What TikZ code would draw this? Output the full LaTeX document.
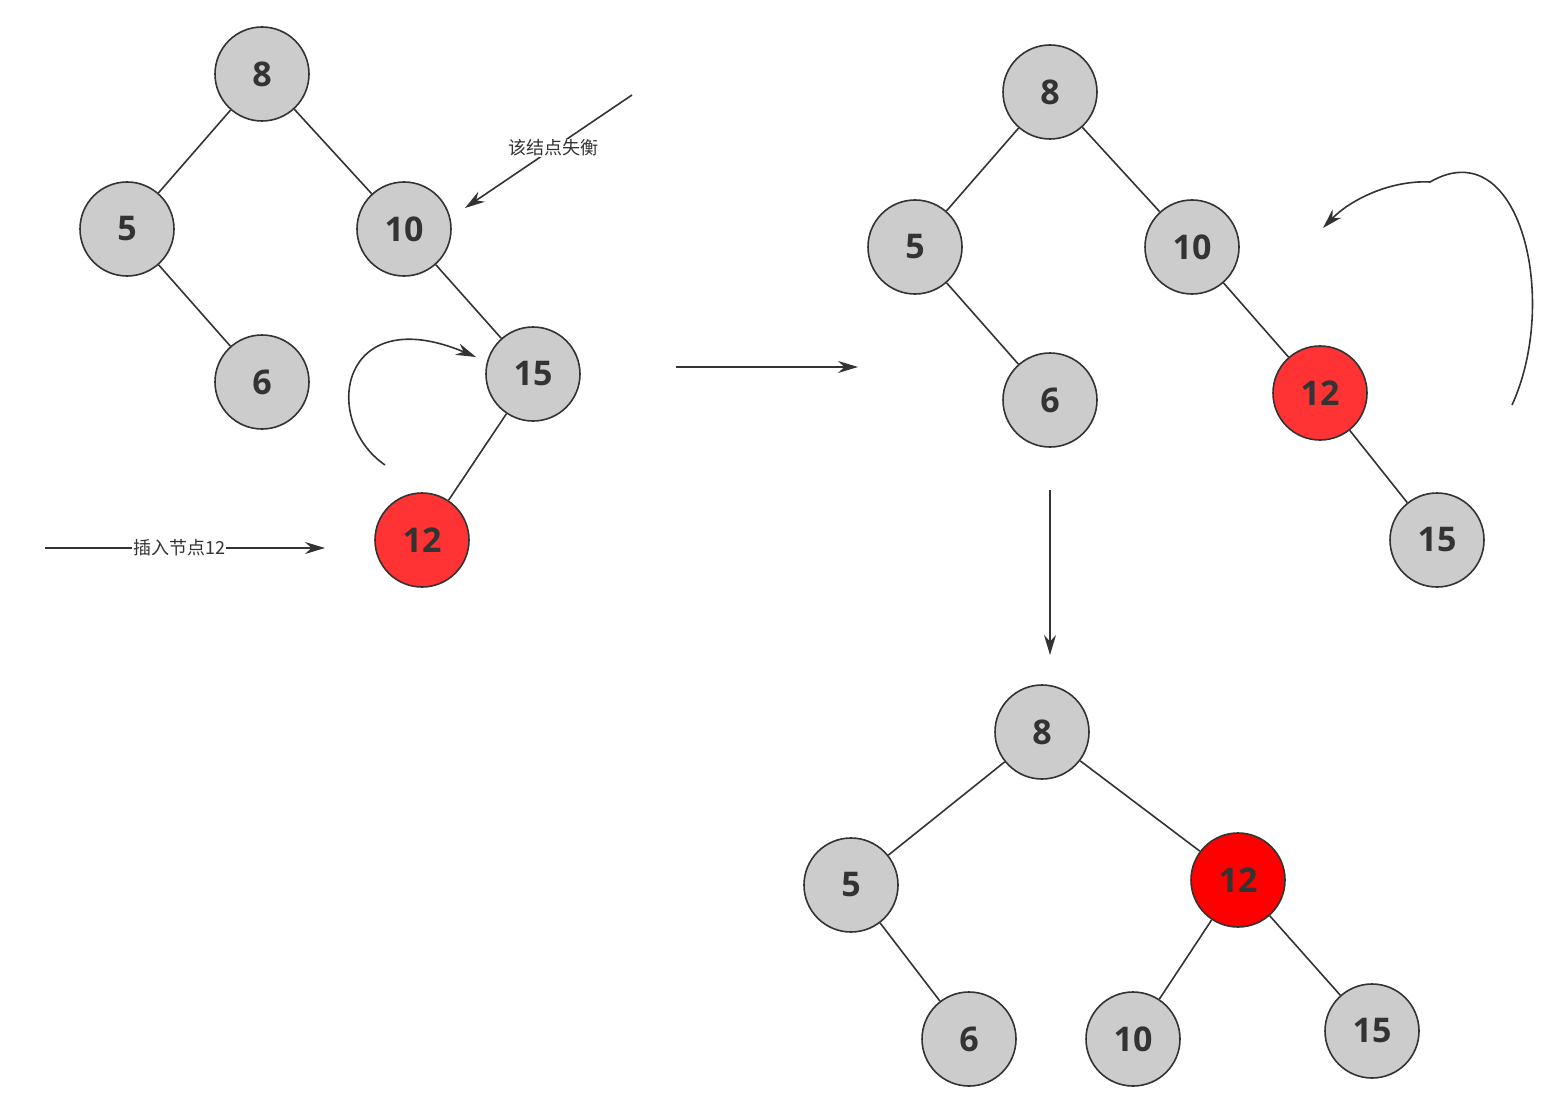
\documentclass[tikz,border=0pt]{standalone}
\usepackage{fontspec}
\setmainfont{Open Sans}
\newfontfamily\cjk{Noto Sans CJK SC}
\usetikzlibrary{arrows.meta}
\definecolor{ln}{HTML}{333333}
\definecolor{gr}{HTML}{CCCCCC}
\definecolor{rd}{HTML}{FF3333}
\begin{document}
\begin{tikzpicture}[x=1pt,y=-1pt,
 nd/.style={circle,draw=ln,line width=1.6pt,fill=gr,minimum size=94pt,inner sep=0pt,font=\fontsize{34}{34}\selectfont\bfseries,text=ln},
 red/.style={nd,fill=rd},
 e/.style={draw=ln,line width=1.6pt},
 ar/.style={draw=ln,line width=1.6pt,-{Stealth[length=20pt,width=12pt]}},
 lb/.style={fill=white,inner sep=1pt,font=\cjk\fontsize{18}{18}\selectfont,text=ln}]
\useasboundingbox (0,0) rectangle (1554,1107);
% tree 1
\node[nd] (a8) at (262,74) {8};
\node[nd] (a5) at (127,229) {5};
\node[nd] (a10) at (404,229) {10};
\node[nd] (a6) at (262,382) {6};
\node[nd] (a15) at (533,374) {15};
\node[red] (a12) at (422,540) {12};
\draw[e] (a8)--(a5); \draw[e] (a8)--(a10); \draw[e] (a5)--(a6);
\draw[e] (a10)--(a15); \draw[e] (a15)--(a12);
% tree 2
\node[nd] (b8) at (1050,92) {8};
\node[nd] (b5) at (915,247) {5};
\node[nd] (b10) at (1192,247) {10};
\node[nd] (b6) at (1050,400) {6};
\node[red] (b12) at (1320,393) {12};
\node[nd] (b15) at (1437,540) {15};
\draw[e] (b8)--(b5); \draw[e] (b8)--(b10); \draw[e] (b5)--(b6);
\draw[e] (b10)--(b12); \draw[e] (b12)--(b15);
% tree 3
\node[nd] (c8) at (1042,732) {8};
\node[nd] (c5) at (851,885) {5};
\node[nd,fill=red] (c12) at (1238,880) {12};
\node[nd] (c6) at (969,1039) {6};
\node[nd] (c10) at (1133,1039) {10};
\node[nd] (c15) at (1372,1031) {15};
\draw[e] (c8)--(c5); \draw[e] (c8)--(c12); \draw[e] (c5)--(c6);
\draw[e] (c12)--(c10); \draw[e] (c12)--(c15);
% arrows
\coordinate (p1) at (632,95); \coordinate (p2) at (465,208);
\draw[ar] (p1)--(p2) node[lb,pos=0.47] {该结点失衡};
\coordinate (q1) at (45,548); \coordinate (q2) at (325,548);
\draw[ar] (q1)--(q2) node[lb,pos=0.48] {插入节点12};
\coordinate (r1) at (385,465); \coordinate (r2) at (476,357);
\draw[ar] (r1) .. controls (320,420) and (340,300) .. (r2);
\coordinate (s1) at (676,367); \coordinate (s2) at (858,367);
\draw[ar] (s1)--(s2);
\coordinate (t1) at (1050,490); \coordinate (t2) at (1050,655);
\draw[ar] (t1)--(t2);
\coordinate (u1) at (1512,405); \coordinate (u2) at (1323,228);
\draw[ar] (u1) .. controls (1560,300) and (1520,130) .. (1430,182) .. controls (1390,180) and (1350,200) .. (u2);
\end{tikzpicture}
\end{document}
